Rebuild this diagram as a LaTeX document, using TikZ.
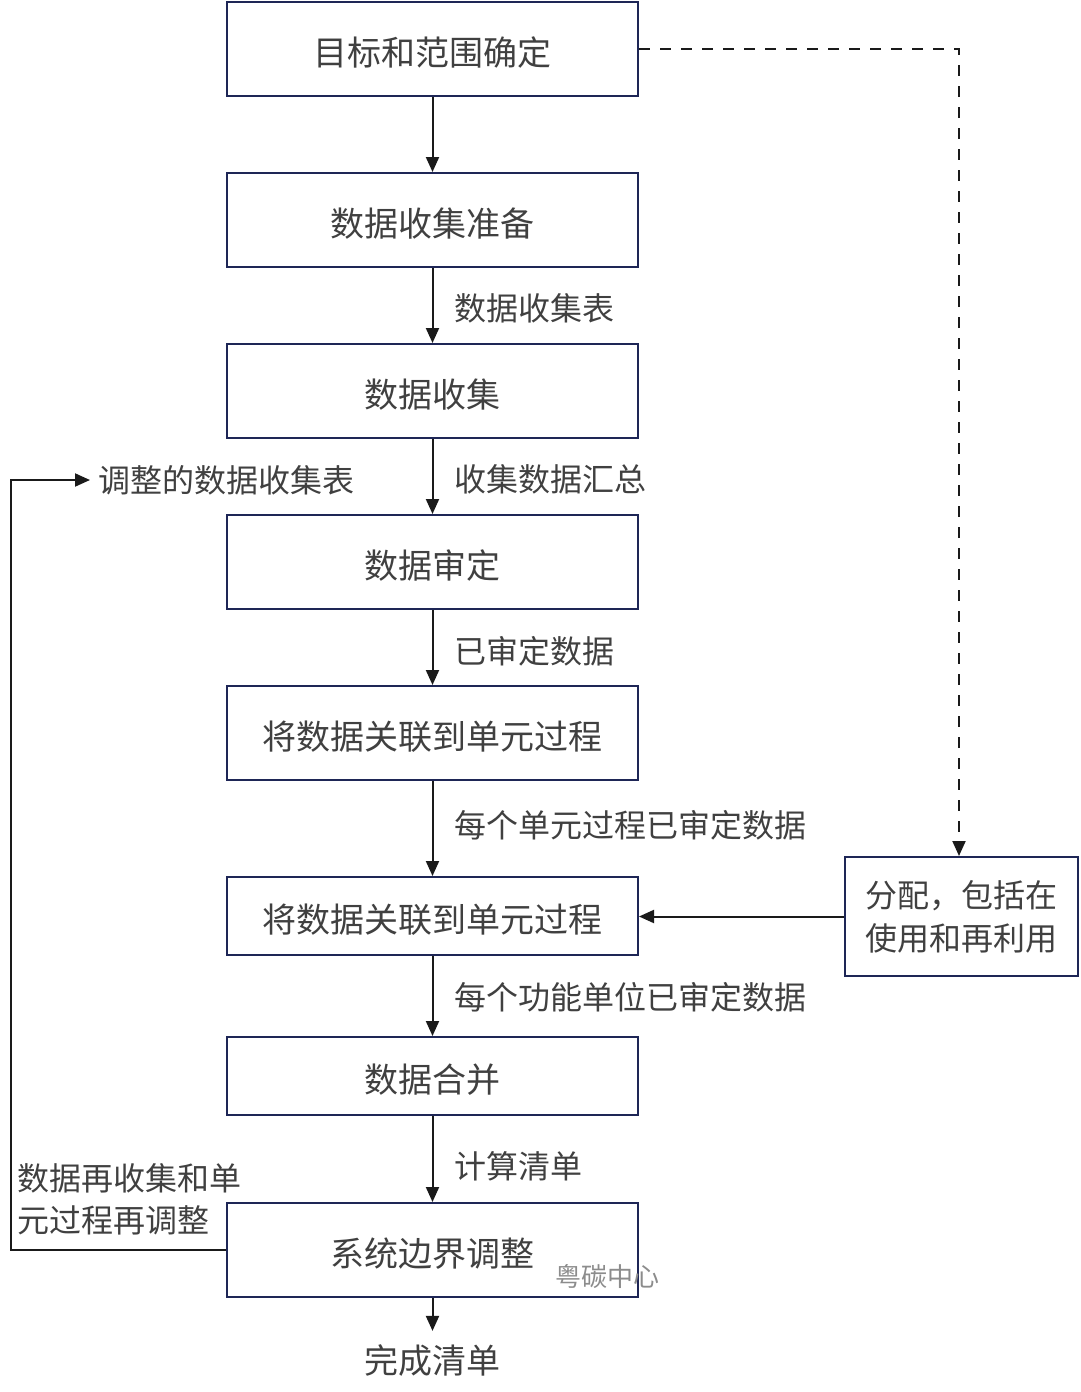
\documentclass[tikz,border=0pt]{standalone}
\usepackage{fontspec}
\setmainfont{Noto Sans CJK SC}
\usetikzlibrary{positioning, arrows.meta}

\definecolor{boxline}{HTML}{1E2656}
\definecolor{txtgray}{HTML}{404040}
\definecolor{arrline}{HTML}{1A1A1A}

\tikzset{
  plainbox/.style={draw=boxline, line width=2pt, text=txtgray, inner sep=0pt},
  stepbox/.style={plainbox, minimum width=411pt,
    font=\fontsize{34}{40}\selectfont, text height=34pt, text depth=2pt},
  flowlabel/.style={anchor=west, text=txtgray, font=\fontsize{32}{42}\selectfont, inner sep=0pt},
  arr/.style={draw=arrline, line width=2pt, -{Triangle[length=15pt,width=13pt]}}
}

\begin{document}
\begin{tikzpicture}[x=1pt, y=-1pt]
        \useasboundingbox (0,0) rectangle (1080,1392);
        % main chain
        \node[stepbox, minimum height=94pt] (goal) at (432.5,49) {目标和范围确定};
        \node[stepbox, minimum height=94pt] (prep) at (432.5,220) {数据收集准备};
        \node[stepbox, minimum height=94pt] (coll) at (432.5,391) {数据收集};
        \node[stepbox, minimum height=94pt] (veri) at (432.5,562) {数据审定};
        \node[stepbox, minimum height=94pt] (link) at (432.5,733) {将数据关联到单元过程};
        \node[stepbox, minimum height=78pt] (linkf) at (432.5,916) {将数据关联到单元过程};
        \node[stepbox, minimum height=78pt] (merge) at (432.5,1076) {数据合并};
        \node[stepbox, minimum height=94pt] (sys) at (432.5,1250) {系统边界调整};
        \node[text=txtgray, font=\fontsize{34}{40}\selectfont, inner sep=0pt] (done) at (432.5,1361) {完成清单};
        \node[plainbox, minimum width=233pt, minimum height=119pt, align=left,
          font=\fontsize{32}{43}\selectfont] (alloc) at (961.5,916.5) {分配，包括在\\使用和再利用};

        \foreach \a/\b in {goal/prep, prep/coll, coll/veri, veri/link, link/linkf, linkf/merge, merge/sys}
          \draw[arr] (\a.south) -- (\b.north);
        \draw[arr, shorten >=14pt] (sys.south) -- (done.north);

        % labels on the chain
        \node[flowlabel] (l1) at (454,308) {数据收集表};
        \node[flowlabel] (l2) at (454,479) {收集数据汇总};
        \node[flowlabel] (l3) at (454,651) {已审定数据};
        \node[flowlabel] (l4) at (454,825) {每个单元过程已审定数据};
        \node[flowlabel] (l5) at (454,997) {每个功能单位已审定数据};
        \node[flowlabel] (l6) at (454,1166) {计算清单};

        % feedback loop
        \node[flowlabel] (adj) at (98,480) {调整的数据收集表};
        \node[flowlabel, anchor=north west, align=left] (recol) at (17,1163) {数据再收集和单\\元过程再调整};
        \coordinate (loopc) at (11,1250);
        \draw[arr, shorten >=8pt] (sys.west) -- (loopc) |- (adj.west);

        % allocation
        \coordinate (dashc) at (959,49);
        \draw[arr, dash pattern=on 11pt off 10pt] (goal.east) -- (dashc) -- (dashc |- alloc.north);
        \draw[arr] (alloc.west) -- (alloc.west -| linkf.east);

        \node[text=gray!90, font=\fontsize{26}{30}\selectfont, inner sep=0pt] (mark) at (607,1277) {粤碳中心};
\end{tikzpicture}
\end{document}
